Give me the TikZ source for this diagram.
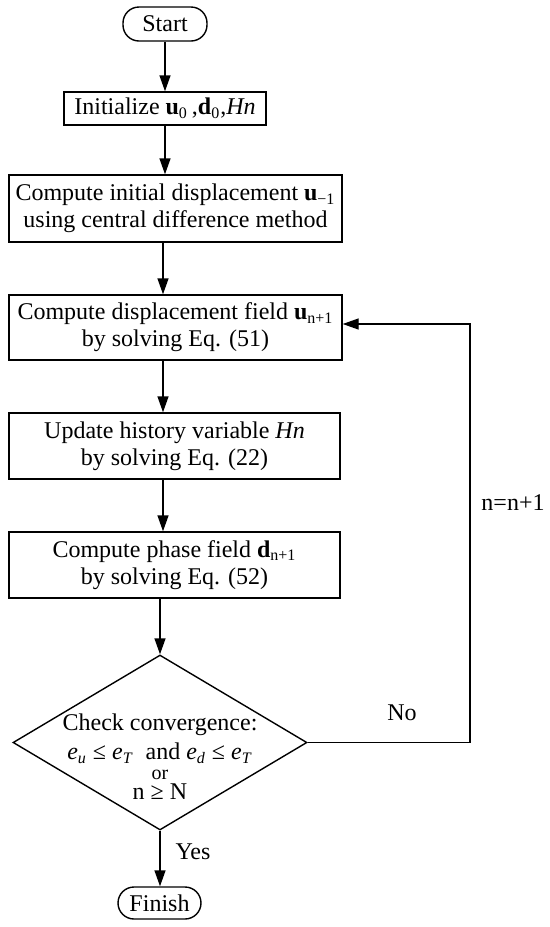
\documentclass[tikz,border=0pt]{standalone}
\usepackage{fontspec}
\setmainfont{Liberation Serif}
\usetikzlibrary{shapes.geometric,arrows.meta}
\begin{document}
\begin{tikzpicture}[x=0.5pt,y=-0.5pt,
  every node/.style={font=\fontsize{12}{13.5}\selectfont},
  line/.style={line width=0.7pt},
  arr/.style={line width=0.7pt,-{Triangle[length=8pt,width=5.5pt]}},
  term/.style={draw,line width=0.7pt,rounded corners=8pt,inner sep=0pt},
  proc/.style={draw,line width=0.7pt,align=center,inner sep=0pt},
  dec/.style={draw,line width=0.7pt,shape=diamond,inner sep=0pt}]
\useasboundingbox (0,0) rectangle (550,927);
\coordinate (col) at (163,0);
\coordinate (rt) at (470,0);
\node[term,minimum width=42pt,minimum height=17pt] (start) at (165,24) {Start};
\node[proc,minimum width=101pt,minimum height=16.5pt] (init) at (165,108.5)
  {Initialize \textbf{u}\textsubscript{0}\,,\textbf{d}\textsubscript{0},\textit{Hn}};
\node[proc,minimum width=166.5pt,minimum height=33.5pt] (b1) at (175.5,208.5)
  {Compute initial displacement \textbf{u}\textsubscript{\textminus1}\\using central difference method};
\node[proc,minimum width=166.5pt,minimum height=32.5pt] (b2) at (175.5,327.5)
  {Compute displacement field \textbf{u}\textsubscript{n+1}\\by solving Eq. (51)};
\node[proc,minimum width=165.5pt,minimum height=33pt] (b3) at (174.5,446)
  {Update history variable \textit{Hn}\\by solving Eq. (22)};
\node[proc,minimum width=165.5pt,minimum height=33pt] (b4) at (174.5,565)
  {Compute phase field \textbf{d}\textsubscript{n+1}\\by solving Eq. (52)};
\node[dec,minimum width=147pt,minimum height=87.5pt] (dia) at (160,742.5) {};
\node[align=center,inner sep=0pt,font=\fontsize{12}{14.5}\selectfont] (diatext) at (160,757)
  {Check convergence:\\[0pt]
   \textit{e}\textsubscript{\textit{u}} ≤ \textit{e}\textsubscript{\textit{T}}\ \ and \textit{e}\textsubscript{\textit{d}} ≤ \textit{e}\textsubscript{\textit{T}}\\[-4.5pt]
   {\fontsize{10}{11}\selectfont or}\\[-4.5pt]
   n ≥ N};
\node[term,minimum width=41.5pt,minimum height=16pt] (finish) at (159.5,903) {Finish};
\node (yes) at (193,852) {Yes};
\node (no) at (402,713) {No};
\node (inc) at (513,503) {n=n+1};
\coordinate (b2in) at ([yshift=1.75pt]b2.east);
\draw[arr] (start.south) -- (start.south |- init.north);
\draw[arr] (init.south) -- (init.south |- b1.north);
\draw[arr] (b1.south -| col) -- (b2.north -| col);
\draw[arr] (b2.south -| col) -- (b3.north -| col);
\draw[arr] (b3.south -| col) -- (b4.north -| col);
\draw[arr] (dia.north |- b4.south) -- (dia.north);
\draw[arr] (dia.south) -- (dia.south |- finish.north);
\draw[arr] (dia.east) -- (dia.east -| rt) -- (rt |- b2in) -- (b2in);
\end{tikzpicture}
\end{document}
